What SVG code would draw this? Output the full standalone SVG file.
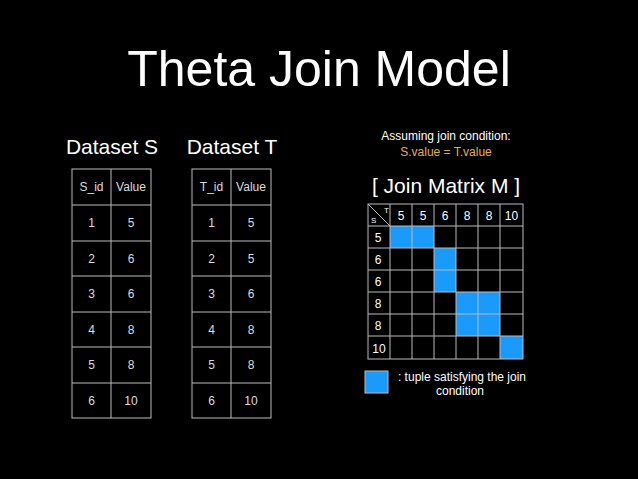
<svg xmlns="http://www.w3.org/2000/svg" width="638" height="479" viewBox="0 0 638 479">
<style>
text{font-family:"Helvetica Neue","Liberation Sans",Arial,sans-serif;fill:#fff}
.t{font-size:12px;fill:#ddd;text-anchor:middle}
.g{stroke:#bbb;stroke-width:1;fill:none}
.b{fill:#1a9bfc}
.m{font-size:12px;fill:#fff;text-anchor:middle}
</style>
<rect width="638" height="479" fill="#000"/>
<text x="319" y="86" font-size="50" text-anchor="middle" font-weight="300">Theta Join Model</text>
<text x="112" y="154" font-size="21" text-anchor="middle" font-weight="300">Dataset S</text>
<text x="232" y="154" font-size="21" text-anchor="middle" font-weight="300">Dataset T</text>
<text x="446" y="140" font-size="12" text-anchor="middle">Assuming join condition:</text>
<text x="446" y="156" font-size="12" text-anchor="middle" style="fill:#e8b23a">S.value = T.value</text>
<text x="446" y="193" font-size="21" text-anchor="middle" font-weight="300">[ Join Matrix M ]</text>
<g id="tableS">
<rect class="g" x="72" y="169" width="79" height="249"/>
<path class="g" d="M111 169V418M72 205H151M72 241H151M72 276H151M72 312H151M72 347H151M72 383H151"/>
<text class="t" x="91.5" y="191">S_id</text><text class="t" x="131" y="191">Value</text>
<text class="t" x="91.5" y="227">1</text><text class="t" x="131" y="227">5</text>
<text class="t" x="91.5" y="263">2</text><text class="t" x="131" y="263">6</text>
<text class="t" x="91.5" y="298">3</text><text class="t" x="131" y="298">6</text>
<text class="t" x="91.5" y="334">4</text><text class="t" x="131" y="334">8</text>
<text class="t" x="91.5" y="369">5</text><text class="t" x="131" y="369">8</text>
<text class="t" x="91.5" y="405">6</text><text class="t" x="131" y="405">10</text>
</g>
<g id="tableT">
<rect class="g" x="192" y="169" width="79" height="249"/>
<path class="g" d="M231 169V418M192 205H271M192 241H271M192 276H271M192 312H271M192 347H271M192 383H271"/>
<text class="t" x="211.5" y="191">T_id</text><text class="t" x="251" y="191">Value</text>
<text class="t" x="211.5" y="227">1</text><text class="t" x="251" y="227">5</text>
<text class="t" x="211.5" y="263">2</text><text class="t" x="251" y="263">5</text>
<text class="t" x="211.5" y="298">3</text><text class="t" x="251" y="298">6</text>
<text class="t" x="211.5" y="334">4</text><text class="t" x="251" y="334">8</text>
<text class="t" x="211.5" y="369">5</text><text class="t" x="251" y="369">8</text>
<text class="t" x="211.5" y="405">6</text><text class="t" x="251" y="405">10</text>
</g>
<g id="matrix">
<rect class="b" x="390" y="226" width="44" height="22"/>
<rect class="b" x="434" y="248" width="22" height="44"/>
<rect class="b" x="456" y="292" width="44" height="44"/>
<rect class="b" x="500" y="336" width="23" height="23"/>
<rect class="g" x="368" y="204" width="155" height="155"/>
<path class="g" d="M390 204V359M412 204V359M434 204V359M456 204V359M478 204V359M500 204V359M368 226H523M368 248H523M368 270H523M368 292H523M368 314H523M368 336H523M368 204L390 226"/>
<text x="384" y="213" font-size="8">T</text><text x="371" y="223" font-size="8">S</text>
<text class="m" x="401" y="220">5</text><text class="m" x="423" y="220">5</text><text class="m" x="445" y="220">6</text><text class="m" x="467" y="220">8</text><text class="m" x="489" y="220">8</text><text class="m" x="511.5" y="220">10</text>
<text class="m" x="378" y="242">5</text><text class="m" x="378" y="264">6</text><text class="m" x="378" y="286">6</text><text class="m" x="378" y="308">8</text><text class="m" x="378" y="330">8</text><text class="m" x="379" y="353">10</text>
</g>
<g id="legend">
<rect class="b" x="365" y="371" width="23" height="22" stroke="#bbb" stroke-width="1"/>
<text x="462" y="381" font-size="12" text-anchor="middle">: tuple satisfying the join</text>
<text x="460" y="395" font-size="12" text-anchor="middle">condition</text>
</g>
</svg>
